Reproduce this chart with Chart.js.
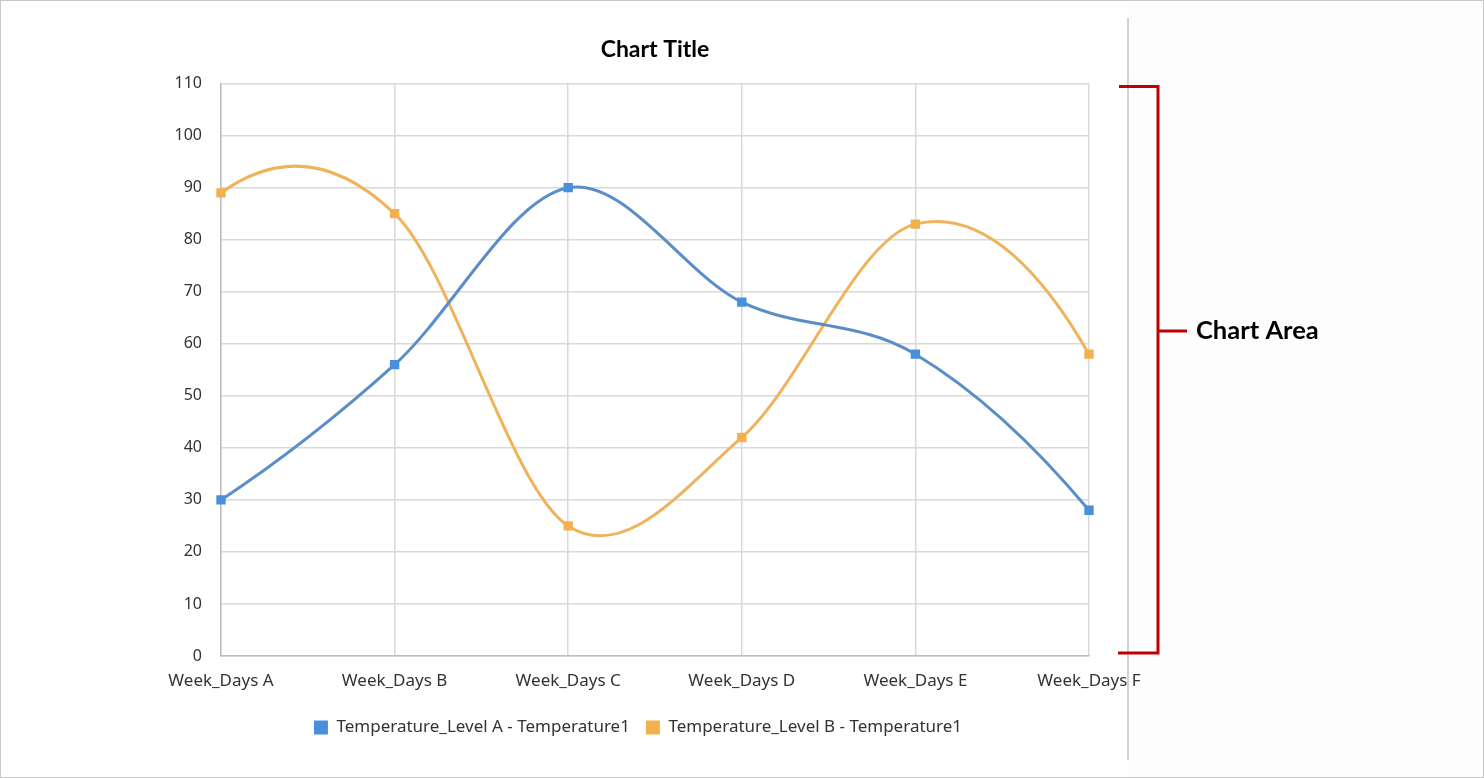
<!DOCTYPE html>
<html><head><meta charset="utf-8">
<script src="https://cdn.jsdelivr.net/npm/chart.js@4.4.0/dist/chart.umd.min.js"></script>
<style>html,body{margin:0;padding:0;background:#fff;}#wrap{position:relative;width:1484px;height:778px;}</style>
</head><body><div id="wrap"><canvas id="c" width="1484" height="778"></canvas></div>
<script>
const categories = ['Week_Days A','Week_Days B','Week_Days C','Week_Days D','Week_Days E','Week_Days F'];
const seriesAName = 'Temperature_Level A - Temperature1';
const seriesBName = 'Temperature_Level B - Temperature1';
const seriesA = [30, 56, 90, 68, 58, 28];
const seriesB = [89, 85, 25, 42, 83, 58];
const yMin = 0, yMax = 110, yStep = 10;
const titleText = 'Chart Title';
const annotationText = 'Chart Area';

const FONT = "'Noto Sans', 'Open Sans', sans-serif";

// Excel-style smoothing: Catmull-Rom (1/6) tangents inside, quadratic ends
const excelSmooth = {
  id: 'excelSmooth',
  beforeDatasetDraw(chart, args) {
    const meta = args.meta;
    const pts = meta.data;
    const n = pts.length;
    if (n < 3) return;
    const P = pts.map(p => ({ x: p.x, y: p.y }));
    const prev = [], next = [];
    for (let i = 1; i < n - 1; i++) {
      const dx = (P[i + 1].x - P[i - 1].x) / 6, dy = (P[i + 1].y - P[i - 1].y) / 6;
      prev[i] = { x: P[i].x - dx, y: P[i].y - dy };
      next[i] = { x: P[i].x + dx, y: P[i].y + dy };
    }
    const q0 = { x: P[1].x + 1.5 * (prev[1].x - P[1].x), y: P[1].y + 1.5 * (prev[1].y - P[1].y) };
    next[0] = { x: P[0].x + (2 / 3) * (q0.x - P[0].x), y: P[0].y + (2 / 3) * (q0.y - P[0].y) };
    prev[0] = { x: P[0].x, y: P[0].y };
    const m = n - 1;
    const qn = { x: P[m - 1].x + 1.5 * (next[m - 1].x - P[m - 1].x), y: P[m - 1].y + 1.5 * (next[m - 1].y - P[m - 1].y) };
    prev[m] = { x: P[m].x + (2 / 3) * (qn.x - P[m].x), y: P[m].y + (2 / 3) * (qn.y - P[m].y) };
    next[m] = { x: P[m].x, y: P[m].y };
    pts.forEach((p, i) => {
      p.cp1x = prev[i].x; p.cp1y = prev[i].y;
      p.cp2x = next[i].x; p.cp2y = next[i].y;
    });
    meta.dataset._pointsUpdated = true;
    meta.dataset._path = undefined;
  }
};

const decor = {
  id: 'decor',
  beforeDraw(chart) {
    const ctx = chart.ctx;
    ctx.save();
    ctx.fillStyle = '#ffffff';
    ctx.fillRect(0, 0, chart.width, chart.height);
    ctx.fillStyle = '#fdfdfd';
    ctx.fillRect(1129, 1, chart.width - 1130, chart.height - 2);
    ctx.restore();
  },
  afterDraw(chart) {
    const ctx = chart.ctx;
    const a = chart.chartArea;
    ctx.save();
    ctx.strokeStyle = '#c8c8c8';
    ctx.lineWidth = 1;
    ctx.strokeRect(0.5, 0.5, chart.width - 1, chart.height - 1);
    ctx.strokeStyle = '#d2d2d2';
    ctx.lineWidth = 2;
    ctx.beginPath(); ctx.moveTo(1128, 18); ctx.lineTo(1128, 760); ctx.stroke();
    const top = a.top + 3, bot = a.bottom - 3;
    ctx.strokeStyle = '#c00000';
    ctx.lineWidth = 3;
    ctx.beginPath();
    ctx.moveTo(1119, top); ctx.lineTo(1158, top); ctx.lineTo(1158, bot); ctx.lineTo(1118, bot);
    ctx.moveTo(1158, 331); ctx.lineTo(1187, 331);
    ctx.stroke();
    ctx.fillStyle = '#000';
    ctx.font = "bold 25.5px Lato, 'Open Sans', sans-serif";
    ctx.textAlign = 'left';
    ctx.textBaseline = 'middle';
    ctx.fillText(annotationText, 1196, 331);
    ctx.restore();
  }
};

new Chart(document.getElementById('c'), {
  type: 'line',
  data: {
    labels: categories,
    datasets: [
      { label: seriesAName, data: seriesA, borderColor: '#5b8ec7', backgroundColor: '#4a8fdc',
        pointBackgroundColor: '#4a8fdc', pointBorderColor: '#4a8fdc', borderWidth: 3,
        pointStyle: 'rect', pointRadius: 4.5, tension: 0.5, fill: false },
      { label: seriesBName, data: seriesB, borderColor: '#efb35c', backgroundColor: '#f4b04c',
        pointBackgroundColor: '#f4b04c', pointBorderColor: '#f4b04c', borderWidth: 3,
        pointStyle: 'rect', pointRadius: 4.5, tension: 0.5, fill: false }
    ]
  },
  options: {
    responsive: false,
    animation: false,
    devicePixelRatio: 1,
    layout: { padding: { left: 0, right: 208, top: 0, bottom: 32 } },
    plugins: {
      title: { display: true, text: titleText, color: '#000', fullSize: false,
        font: { family: "Lato, 'Open Sans', sans-serif", size: 23, weight: 'bold' },
        padding: { top: 36, bottom: 20 } },
      legend: { position: 'bottom',
        labels: { boxWidth: 14, boxHeight: 14, padding: 16, color: '#333',
          font: { family: FONT, size: 17 },
          generateLabels: (chart) => Chart.defaults.plugins.legend.labels.generateLabels(chart)
            .map(it => Object.assign(it, { lineWidth: 0, strokeStyle: 'rgba(0,0,0,0)' })) } },
      tooltip: { enabled: false }
    },
    scales: {
      x: {
        offset: false,
        grid: { color: '#d9d9d9', lineWidth: 1.5, drawTicks: false },
        border: { color: '#bfbfbf', width: 1.5 },
        ticks: { color: '#333', padding: 15, maxRotation: 0, autoSkip: false,
          font: { family: FONT, size: 17 } },
        afterFit: s => { s.height = 47; }
      },
      y: {
        min: yMin, max: yMax,
        grid: { color: '#d9d9d9', lineWidth: 1.5, drawTicks: false },
        border: { color: '#bfbfbf', width: 1.5 },
        ticks: { stepSize: yStep, color: '#333', padding: 19,
          font: { family: FONT, size: 16 } },
        afterFit: s => { s.width = 221; }
      },
      y2: {
        type: 'linear', position: 'right', min: yMin, max: yMax,
        grid: { display: false, drawTicks: false },
        border: { display: false },
        ticks: { display: false },
        afterFit: s => { s.width = 187; }
      }
    }
  },
  plugins: [excelSmooth, decor]
});
</script></body></html>
